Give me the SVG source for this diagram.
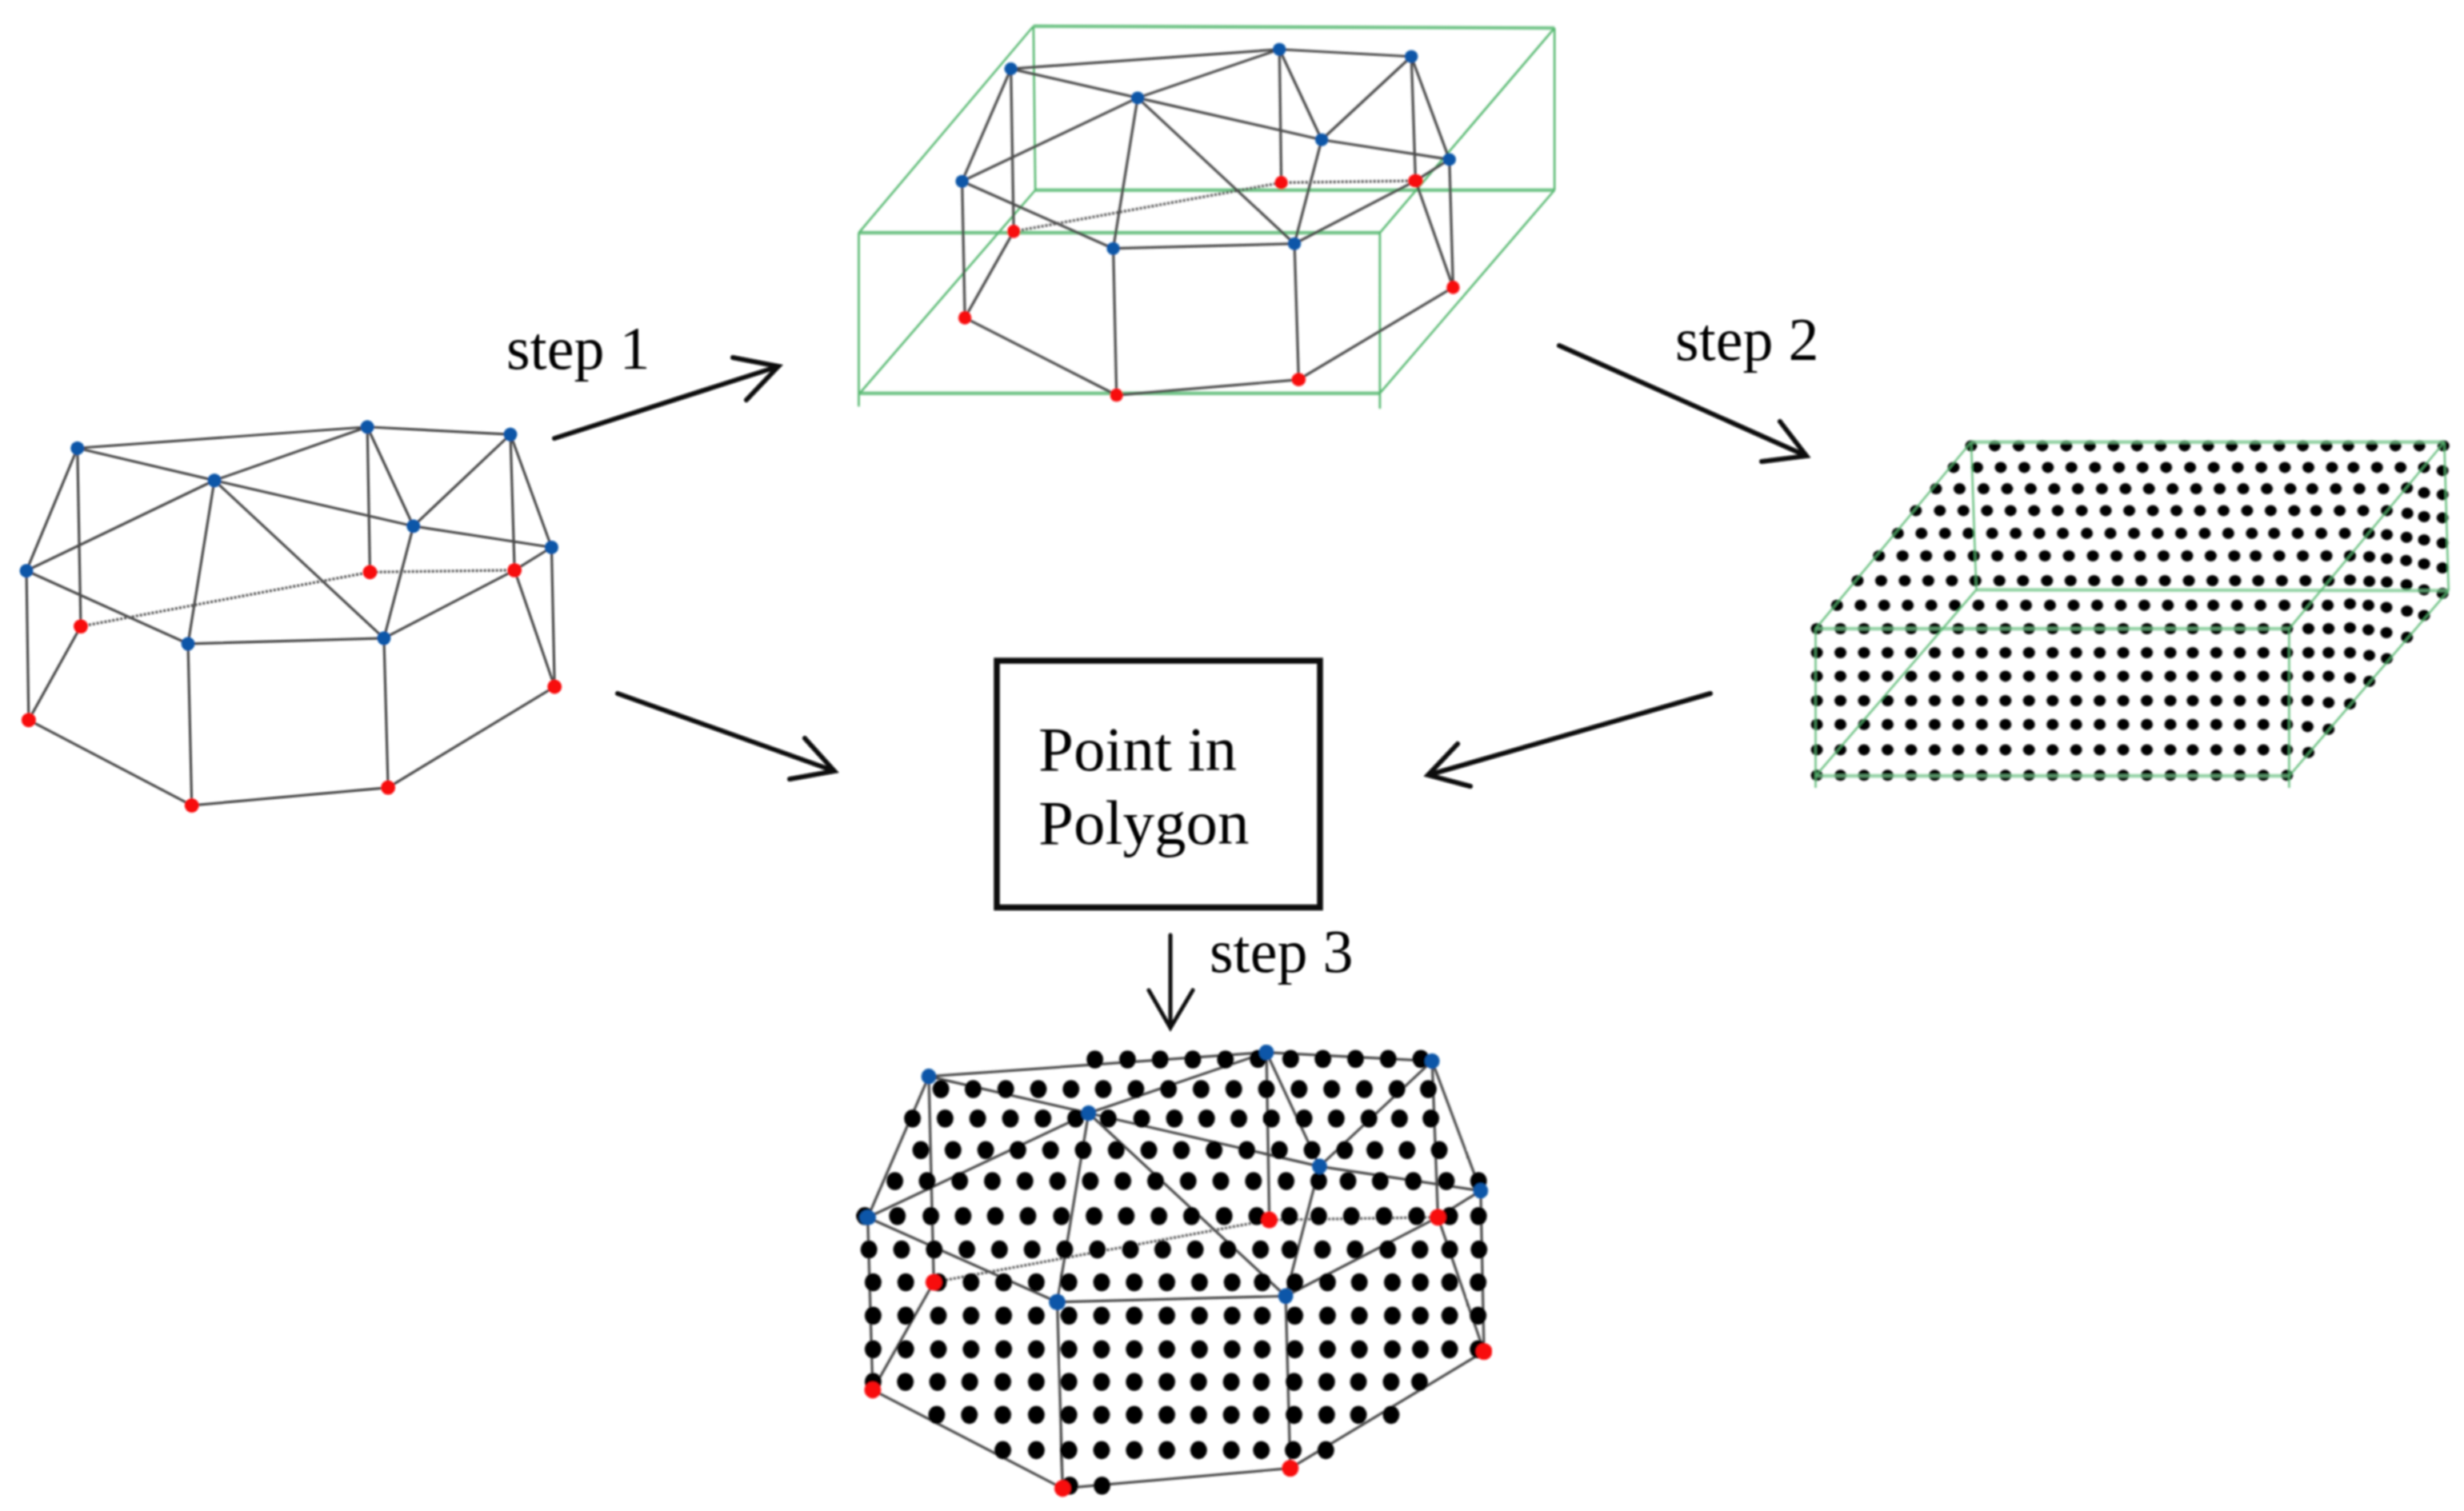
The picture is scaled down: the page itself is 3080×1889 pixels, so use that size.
<svg xmlns="http://www.w3.org/2000/svg" width="3080" height="1889" viewBox="0 0 3080 1889">
<style>
text{font-family:"Liberation Serif","Times New Roman",serif;fill:#000}
.s{font-size:76px}.p{font-size:79px}
.e{fill:none;stroke:#484848;stroke-width:3.2px;vector-effect:non-scaling-stroke;stroke-linecap:round}
.ed{fill:none;stroke:#555;stroke-width:3.4px;stroke-dasharray:3 2;vector-effect:non-scaling-stroke}
.g{fill:none;stroke:#56b870;stroke-width:2.6px;vector-effect:non-scaling-stroke}
.gh{fill:none;stroke:#72c488;stroke-width:4.4px;vector-effect:non-scaling-stroke}
.b{fill:#0b57a8}.r{fill:#f80b10}
.dr{fill:none;stroke:none;marker:url(#dot3)}
.db{fill:none;stroke:none;marker:url(#dot4)}
.a{fill:none;stroke:#0a0a0a;stroke-width:6px;stroke-linecap:round;stroke-linejoin:miter}
</style>
<defs>
<filter id="soft" filterUnits="userSpaceOnUse" x="0" y="0" width="3080" height="1889"><feGaussianBlur stdDeviation="0.8"/></filter>
<marker id="dot3" markerUnits="userSpaceOnUse" markerWidth="30" markerHeight="44" refX="15" refY="22" overflow="visible"><ellipse cx="15" cy="22" rx="14" ry="21" fill="#050505"/></marker>
<marker id="dot4" markerUnits="userSpaceOnUse" markerWidth="44" markerHeight="64" refX="22" refY="32" overflow="visible"><ellipse cx="22" cy="32" rx="20" ry="30" fill="#050505"/></marker>
</defs>
<rect width="3080" height="1889" fill="#fff"/>
<g filter="url(#soft)">

<g id="mesh-input" transform="translate(0 500) scale(.4719 .3444)">
<path class="e" d="M205 175L973 98L1352 125M205 175L568 292L973 98M205 175L70 620L568 292M205 175L214 822M568 292L498 885M568 292L1017 865M568 292L1095 458M973 98L980 625M973 98L1095 458M1352 125L1095 458M1352 125L1363 618M1352 125L1461 535M1095 458L1461 535M1095 458L1017 865M1461 535L1363 618M1461 535L1469 1041M70 620L498 885M70 620L76 1162M498 885L1017 865M498 885L508 1472M1017 865L1363 618M1017 865L1028 1407M214 822L76 1162L508 1472L1028 1407L1469 1041L1363 618"/>
<path class="ed" d="M214 822L980 625L1363 618"/>
<ellipse class="b" cx="205" cy="175" rx="18" ry="25"/><ellipse class="b" cx="568" cy="292" rx="18" ry="25"/><ellipse class="b" cx="973" cy="98" rx="18" ry="25"/><ellipse class="b" cx="1352" cy="125" rx="18" ry="25"/><ellipse class="b" cx="1095" cy="458" rx="18" ry="25"/><ellipse class="b" cx="1461" cy="535" rx="18" ry="25"/><ellipse class="b" cx="70" cy="620" rx="18" ry="25"/><ellipse class="b" cx="498" cy="885" rx="18" ry="25"/><ellipse class="b" cx="1017" cy="865" rx="18" ry="25"/>
<ellipse class="r" cx="214" cy="822" rx="19" ry="26"/><ellipse class="r" cx="980" cy="625" rx="19" ry="26"/><ellipse class="r" cx="1363" cy="618" rx="19" ry="26"/><ellipse class="r" cx="76" cy="1162" rx="19" ry="26"/><ellipse class="r" cx="1469" cy="1041" rx="19" ry="26"/><ellipse class="r" cx="508" cy="1472" rx="19" ry="26"/><ellipse class="r" cx="1028" cy="1407" rx="19" ry="26"/>
</g>

<g id="mesh-bbox" transform="translate(1050 10) scale(.5868 .3333)">
<path class="gh" d="M412 68L1522 75M416 683H1522M40 843H1150M42 1445H1150"/>
<path class="g" d="M412 68L416 683M1522 75V683M40 843V1495M1150 843V1503M412 68L40 843M1522 75L1150 843M416 683L42 1445M1522 683L1150 1445"/>
<path class="e" d="M364 228L936 155L1217 182M364 228L634 337L936 155M364 228L260 650L634 337M364 228L370 838M634 337L582 902M634 337L968 884M634 337L1026 494M936 155L940 655M936 155L1026 494M1217 182L1026 494M1217 182L1226 648M1217 182L1298 568M1026 494L1298 568M1026 494L968 884M1298 568L1226 648M1298 568L1306 1048M260 650L582 902M260 650L266 1162M582 902L968 884M582 902L589 1452M968 884L1226 648M968 884L977 1394M370 838L266 1162L589 1452L977 1394L1306 1048L1226 648"/>
<path class="ed" d="M370 838L940 655L1226 648"/>
<ellipse class="b" cx="364" cy="228" rx="14" ry="24"/><ellipse class="b" cx="634" cy="337" rx="14" ry="24"/><ellipse class="b" cx="936" cy="155" rx="14" ry="24"/><ellipse class="b" cx="1217" cy="182" rx="14" ry="24"/><ellipse class="b" cx="1026" cy="494" rx="14" ry="24"/><ellipse class="b" cx="1298" cy="568" rx="14" ry="24"/><ellipse class="b" cx="260" cy="650" rx="14" ry="24"/><ellipse class="b" cx="582" cy="902" rx="14" ry="24"/><ellipse class="b" cx="968" cy="884" rx="14" ry="24"/>
<ellipse class="r" cx="370" cy="838" rx="14" ry="25"/><ellipse class="r" cx="940" cy="655" rx="14" ry="25"/><ellipse class="r" cx="1226" cy="648" rx="16" ry="25"/><ellipse class="r" cx="266" cy="1162" rx="14" ry="25"/><ellipse class="r" cx="1306" cy="1048" rx="14" ry="25"/><ellipse class="r" cx="589" cy="1452" rx="14" ry="25"/><ellipse class="r" cx="977" cy="1394" rx="15" ry="25"/>
</g>

<g id="grid-box" transform="translate(2240 530) scale(.5357 .3333)">
<polyline class="dr" points="418,82 473,82 529,82 584,82 640,82 695,82 750,82 805,82 860,82 916,82 971,82 1026,82 1081,82 1137,82 1192,82 1247,82 1298,82 1353,82 1408,82 1464,82 1520,82"/>
<polyline class="dr" points="377,163 432,163 487,163 542,163 597,163 652,163 707,163 763,163 818,163 873,163 929,163 984,163 1040,163 1095,163 1150,163 1205,163 1260,163 1310,163 1365,163 1420,163 1475,163 1518,175"/>
<polyline class="dr" points="336,243 391,243 447,243 502,243 557,243 612,243 667,243 723,243 778,243 833,243 888,243 943,243 998,243 1053,243 1108,243 1163,243 1214,243 1269,243 1324,243 1380,243 1435,240 1475,258 1518,265"/>
<polyline class="dr" points="289,325 345,325 400,325 455,325 510,325 565,325 620,325 676,325 732,325 787,325 842,325 897,325 952,325 1007,325 1062,325 1117,325 1172,325 1223,325 1278,325 1333,325 1388,325 1436,335 1475,348 1518,352"/>
<polyline class="dr" points="247,410 302,410 357,410 412,410 467,410 522,410 577,410 632,410 688,410 743,410 798,410 853,410 908,410 963,410 1018,410 1073,410 1125,410 1180,410 1235,410 1290,410 1346,410 1388,415 1434,425 1475,435 1518,447"/>
<polyline class="dr" points="203,495 258,495 313,495 368,495 424,495 479,495 534,495 590,495 646,495 702,495 757,495 812,495 867,495 922,495 977,495 1032,495 1082,495 1137,495 1192,495 1247,495 1302,495 1347,498 1388,505 1433,512 1475,525 1518,540"/>
<polyline class="dr" points="153,588 208,588 263,588 318,588 373,588 428,588 484,588 539,588 595,588 650,588 705,588 760,588 815,588 870,588 926,588 981,588 1034,588 1088,588 1143,588 1198,588 1252,588 1302,585 1347,590 1388,593 1434,603 1475,622 1518,635"/>
<polyline class="dr" points="105,680 160,680 215,680 270,680 325,680 380,680 435,680 490,680 546,680 602,680 657,680 712,680 767,680 822,680 877,680 932,680 983,680 1038,680 1093,680 1149,680 1203,680 1250,680 1302,675 1345,680 1387,688 1435,702 1475,718"/>
<polyline class="dr" points="58,768 113,768 168,768 223,768 278,768 333,768 388,768 443,768 498,768 553,768 608,768 663,768 718,768 773,768 828,768 883,768 935,768 990,768 1045,768 1100,768 1155,768 1205,768 1252,768 1302,765 1345,772 1387,783 1435,800"/>
<polyline class="dr" points="58,858 113,858 168,858 223,858 278,858 333,858 388,858 443,858 498,858 553,858 608,858 663,858 718,858 773,858 828,858 883,858 935,858 990,858 1045,858 1100,858 1155,858 1205,858 1252,858 1302,858 1347,868 1388,880"/>
<polyline class="dr" points="58,946 113,946 168,946 223,946 278,946 333,946 388,946 443,946 498,946 553,946 608,946 663,946 718,946 773,946 828,946 883,946 935,946 990,946 1045,946 1100,946 1155,946 1205,946 1252,946 1302,952 1347,965"/>
<polyline class="dr" points="58,1038 113,1038 168,1038 223,1038 278,1038 333,1038 388,1038 443,1038 498,1038 553,1038 608,1038 663,1038 718,1038 773,1038 828,1038 883,1038 935,1038 990,1038 1045,1038 1100,1038 1155,1038 1203,1038 1252,1045 1302,1050"/>
<polyline class="dr" points="58,1127 113,1127 168,1127 223,1127 278,1127 333,1127 388,1127 443,1127 498,1127 553,1127 608,1127 663,1127 718,1127 773,1127 828,1127 883,1127 935,1127 990,1127 1045,1127 1100,1127 1155,1127 1203,1135 1252,1145"/>
<polyline class="dr" points="58,1222 113,1222 168,1222 223,1222 278,1222 333,1222 388,1222 443,1222 498,1222 553,1222 608,1222 663,1222 718,1222 773,1222 828,1222 883,1222 935,1222 990,1222 1045,1222 1100,1222 1155,1222 1205,1232"/>
<polyline class="dr" points="58,1318 113,1318 168,1318 223,1318 278,1318 333,1318 388,1318 443,1318 498,1318 553,1318 608,1318 663,1318 718,1318 773,1318 828,1318 883,1318 935,1318 990,1318 1045,1318 1100,1318 1155,1318"/>
<path class="gh" opacity=".75" d="M418 68H1522M430 622L1532 625M55 768H1160M55 1320H1160"/>
<path class="g" opacity=".85" d="M418 68L430 622M1522 68L1532 625M55 768V1365M1160 768V1365M418 68L55 768M1522 68L1160 768M430 622L55 1320M1532 625L1160 1320"/>
</g>

<g id="point-in-polygon">
<rect x="1246" y="826" width="404" height="308.5" fill="none" stroke="#0a0a0a" stroke-width="7.5"/>
<text class="p" x="1298" y="963">Point in</text>
<text class="p" x="1298" y="1055">Polygon</text>
</g>

<g id="mesh-result" transform="translate(1060 1290) scale(.523 .3762)">
<path class="e" d="M193 148L1000 68L1396 97M193 148L575 270L1000 68M193 148L47 617L575 270M193 148L205 832M575 270L500 898M575 270L1046 878M575 270L1127 447M1000 68L1007 625M1000 68L1127 447M1396 97L1127 447M1396 97L1410 616M1396 97L1512 528M1127 447L1512 528M1127 447L1046 878M1512 528L1410 616M1512 528L1520 1062M47 617L500 898M47 617L59 1190M500 898L1046 878M500 898L513 1517M1046 878L1410 616M1046 878L1057 1450M205 832L59 1190L513 1517L1057 1450L1520 1062L1410 616"/>
<path class="ed" d="M205 832L1007 625L1410 616"/>
<polyline class="db" points="590,92 668,92 746,92 824,92 902,92 980,90 1058,90 1135,90 1213,90 1291,90 1369,90"/>
<polyline class="db" points="222,190 299,190 377,190 455,190 533,190 610,190 688,190 766,190 844,190 922,190 1000,190 1078,190 1156,190 1234,190 1312,190 1387,190"/>
<polyline class="db" points="154,288 232,288 310,288 388,288 466,288 544,288 622,288 702,288 780,288 857,288 934,288 1012,288 1090,288 1167,288 1245,288 1318,288 1393,288"/>
<polyline class="db" points="174,393 251,393 329,393 406,393 484,393 562,393 641,393 719,393 797,393 875,393 953,393 1031,393 1109,393 1187,393 1259,393 1336,393 1413,393"/>
<polyline class="db" points="112,496 189,496 267,496 345,496 423,496 501,496 579,496 657,496 735,496 813,496 891,496 969,496 1047,496 1125,496 1195,496 1272,496 1351,496 1430,496 1507,496"/>
<polyline class="db" points="40,612 118,612 198,612 275,612 352,612 430,612 510,612 588,612 665,612 743,612 821,612 899,612 977,612 1055,612 1125,612 1203,612 1281,612 1359,612 1438,612 1507,612"/>
<polyline class="db" points="50,723 128,723 206,723 284,723 362,723 440,723 518,723 596,723 675,723 752,723 830,723 908,723 986,723 1056,723 1134,723 1212,723 1290,723 1367,723 1438,723 1508,723"/>
<polyline class="db" points="60,832 138,832 216,832 294,832 372,832 450,832 528,832 606,832 684,832 762,832 840,832 918,832 990,832 1068,832 1146,832 1222,832 1301,832 1368,832 1438,832 1506,832"/>
<polyline class="db" points="60,943 138,943 216,943 294,943 372,943 450,943 528,943 606,943 684,943 762,943 840,943 918,943 990,943 1068,943 1146,943 1222,943 1301,943 1368,943 1438,943 1506,943"/>
<polyline class="db" points="60,1055 138,1055 216,1055 294,1055 372,1055 450,1055 528,1055 606,1055 684,1055 762,1055 840,1055 918,1055 990,1055 1068,1055 1146,1055 1222,1055 1301,1055 1368,1055 1438,1055 1506,1055"/>
<polyline class="db" points="60,1163 137,1163 214,1163 291,1163 370,1163 450,1163 528,1163 606,1163 684,1163 762,1163 838,1163 916,1163 988,1163 1066,1163 1144,1163 1220,1163 1298,1163 1366,1163"/>
<polyline class="db" points="212,1273 290,1273 370,1273 450,1273 528,1273 606,1273 684,1273 762,1273 838,1273 916,1273 988,1273 1066,1273 1144,1273 1220,1273 1298,1273"/>
<polyline class="db" points="370,1390 450,1390 528,1390 606,1390 684,1390 762,1390 838,1390 916,1390 988,1390 1064,1390 1142,1390"/>
<polyline class="db" points="530,1508 607,1508"/>
<ellipse class="b" cx="193" cy="148" rx="18" ry="26"/><ellipse class="b" cx="575" cy="270" rx="18" ry="26"/><ellipse class="b" cx="1000" cy="68" rx="18" ry="26"/><ellipse class="b" cx="1396" cy="97" rx="18" ry="26"/><ellipse class="b" cx="1127" cy="447" rx="18" ry="26"/><ellipse class="b" cx="1512" cy="528" rx="18" ry="26"/><ellipse class="b" cx="47" cy="617" rx="20" ry="26"/><ellipse class="b" cx="500" cy="898" rx="20" ry="27"/><ellipse class="b" cx="1046" cy="878" rx="18" ry="26"/>
<ellipse class="r" cx="205" cy="832" rx="20" ry="28"/><ellipse class="r" cx="1007" cy="625" rx="20" ry="28"/><ellipse class="r" cx="1410" cy="616" rx="20" ry="28"/><ellipse class="r" cx="59" cy="1190" rx="20" ry="28"/><ellipse class="r" cx="1520" cy="1062" rx="20" ry="28"/><ellipse class="r" cx="513" cy="1517" rx="20" ry="28"/><ellipse class="r" cx="1057" cy="1450" rx="20" ry="28"/>
</g>

<g id="connectors">
<path class="a" d="M693 548L973 458M916 447L973 458L933 500"/>
<path class="a" d="M1949 432L2258 570M2225 527L2258 570L2202 577"/>
<path class="a" d="M772 867L1043 964M1006 923L1043 964L987 974"/>
<path class="a" d="M2138 867L1785 969M1822 930L1785 969L1838 983"/>
<path class="a" style="stroke-width:5px" d="M1463 1169V1285M1436 1238L1463 1285L1491 1238"/>
</g>

<g id="labels">
<text class="s" x="633" y="461">step 1</text>
<text class="s" x="2094" y="450">step 2</text>
<text class="s" x="1512" y="1215">step 3</text>
</g>
</g>
</svg>
